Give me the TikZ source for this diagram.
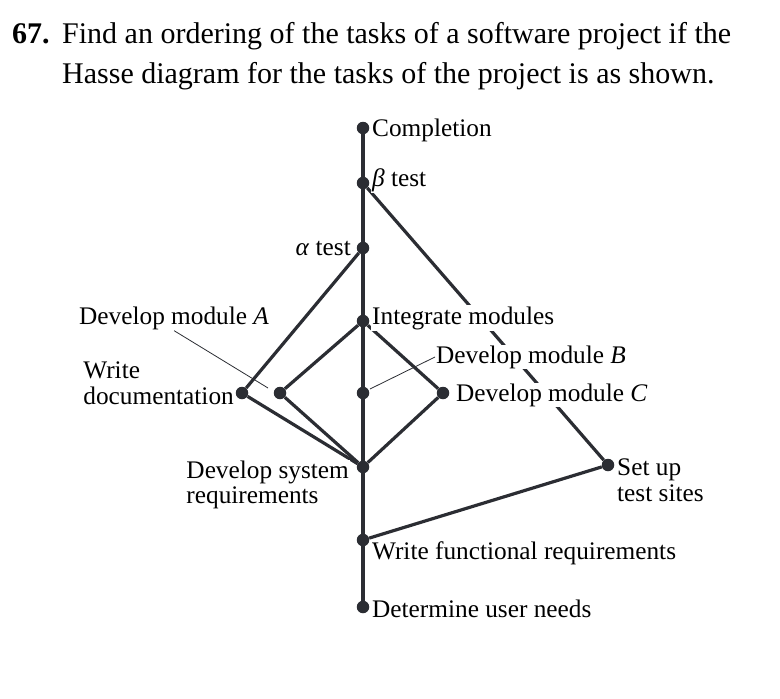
\documentclass[tikz,border=0pt]{standalone}
\usepackage{fontspec}
\setmainfont{Liberation Serif}
\usepackage{xcolor}
\definecolor{ink}{HTML}{2B2D33}

\begin{document}
\begin{tikzpicture}[x=1pt,y=-1pt,
        dot/.style={circle,fill=ink,inner sep=0pt,minimum size=12.5pt},
        edge/.style={line width=3.2pt,ink},
        tag/.style={font=\fontsize{25.3}{25.5}\selectfont,inner sep=1pt,fill=white,align=left},
        ptr/.style={line width=0.8pt,ink}]
        \useasboundingbox (0,0) rectangle (780,699);
        % question
        \node[anchor=base west,inner sep=0pt,font=\fontsize{30}{34}\selectfont\bfseries](num) at (12,43) {67.};
        \node[anchor=base west,inner sep=0pt,font=\fontsize{30}{34}\selectfont](q1) at (62,43) {Find an ordering of the tasks of a software project if the};
        \node[anchor=base west,inner sep=0pt,font=\fontsize{30}{34}\selectfont](q2) at (62,83) {Hasse diagram for the tasks of the project is as shown.};
        % tasks
        \node[dot](done) at (363,128) {};
        \node[dot](beta) at (363,183) {};
        \node[dot](alpha) at (363,248) {};
        \node[dot](integ) at (363,321) {};
        \node[dot](docs) at (242,393) {};
        \node[dot](modA) at (280,393) {};
        \node[dot](modB) at (363,393) {};
        \node[dot](modC) at (443,393) {};
        \node[dot](sysreq) at (363,467) {};
        \node[dot](sites) at (608,465) {};
        \node[dot](funreq) at (363,540) {};
        \node[dot](needs) at (363,607) {};
        \draw[edge](done)--(beta);
        \draw[edge](beta)--(alpha);
        \draw[edge](alpha)--(integ);
        \draw[edge](integ)--(modB);
        \draw[edge](modB)--(sysreq);
        \draw[edge](sysreq)--(funreq);
        \draw[edge](funreq)--(needs);
        \draw[edge](beta)--(sites);
        \draw[edge](sites)--(funreq);
        \draw[edge](alpha)--(docs);
        \draw[edge](docs)--(sysreq);
        \draw[edge](integ)--(modA);
        \draw[edge](modA)--(sysreq);
        \draw[edge](integ)--(modC);
        \draw[edge](modC)--(sysreq);
        % labels
        \node[tag,anchor=west](doneL) at (371,130) {Completion};
        \node[tag,anchor=west](betaL) at (371,180) {\textit{β} test};
        \node[tag,anchor=east](alphaL) at (352,249) {\textit{α} test};
        \node[tag,anchor=west](integL) at (371,318) {Integrate modules};
        \node[tag,anchor=west](modAL) at (78,318) {Develop module \textit{A}};
        \node[tag,anchor=east](docsL) at (235,383) {Write\\documentation};
        \node[tag,anchor=west](modBL) at (435,357) {Develop module \textit{B}};
        \node[tag,anchor=west](modCL) at (455,395) {Develop module \textit{C}};
        \node[tag,anchor=east](sysreqL) at (350,485) {Develop system\\requirements};
        \node[tag,anchor=west](sitesL) at (616,480) {Set up\\test sites};
        \node[tag,anchor=west](funreqL) at (371,553) {Write functional requirements};
        \node[tag,anchor=west](needsL) at (371,609) {Determine user needs};
        \coordinate(modAtip) at (268,388);
        \coordinate(modBtip) at (370,389);
        \draw[ptr](modAL.south)--(modAtip);
        \draw[ptr](modBL.west)--(modBtip);
\end{tikzpicture}
\end{document}
